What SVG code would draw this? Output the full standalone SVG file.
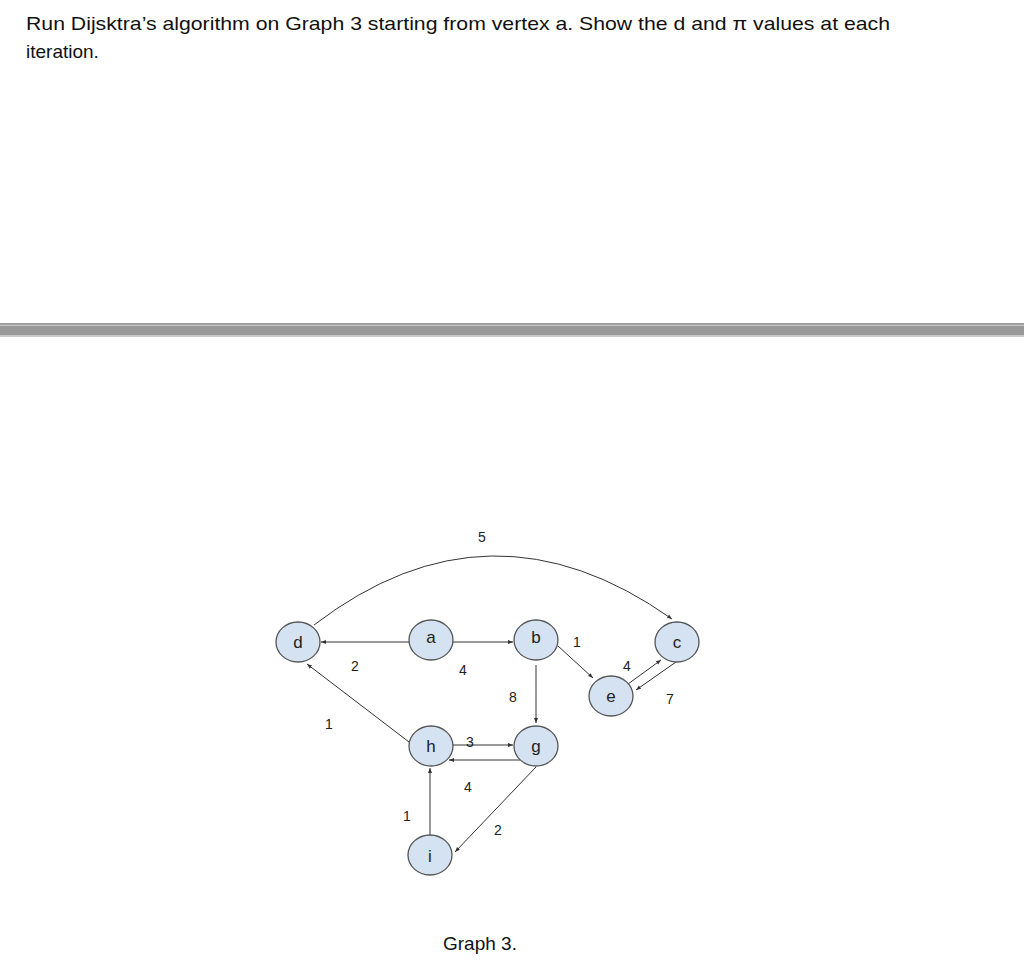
<svg xmlns="http://www.w3.org/2000/svg" width="1024" height="973" viewBox="0 0 1024 973">
<style>
.t{font-family:"Liberation Sans",Arial,sans-serif;font-size:19px;fill:#111}
.n ellipse{fill:#d4e2f1;stroke:#555;stroke-width:1.3}
.n text{font-family:"Liberation Sans",Arial,sans-serif;font-size:17px;fill:#222;text-anchor:middle}
.e{stroke:#333;stroke-width:1;fill:none;marker-end:url(#ar)}
.l{font-family:"Liberation Sans",Arial,sans-serif;font-size:14px;fill:#222;text-anchor:middle}
</style>
<defs><marker id="ar" viewBox="0 0 10 10" refX="10" refY="5" markerWidth="5" markerHeight="5" orient="auto"><path d="M0,1L10,5L0,9z" fill="#333"/></marker></defs>
<rect width="1024" height="973" fill="#fff"/>
<text class="t" x="26" y="30" textLength="864" lengthAdjust="spacingAndGlyphs">Run Dijsktra’s algorithm on Graph 3 starting from vertex a.  Show the d and π values at each</text>
<text class="t" x="26" y="58">iteration.</text>
<rect x="0" y="323" width="1024" height="14" fill="#c8c8c8"/>
<rect x="0" y="323" width="1024" height="2" fill="#a0a0a0"/>
<rect x="0" y="326" width="1024" height="9" fill="#999"/>
<g id="edges">
<path class="e" d="M409,642H321"/>
<path class="e" d="M453,642H513"/>
<path class="e" d="M558,646L593,678"/>
<path class="e" d="M628,684L661,660"/>
<path class="e" d="M676,662L636,690"/>
<path class="e" d="M536,665V723"/>
<path class="e" d="M453,745H513"/>
<path class="e" d="M520,760H449"/>
<path class="e" d="M409,742L307,664"/>
<path class="e" d="M430,835V768"/>
<path class="e" d="M536,767L455,852"/>
<path class="e" d="M314,625Q490,490 672,619"/>
</g>
<g class="lbls">
<text class="l" x="482" y="542">5</text>
<text class="l" x="355" y="671">2</text>
<text class="l" x="463" y="675">4</text>
<text class="l" x="577" y="647">1</text>
<text class="l" x="627" y="671">4</text>
<text class="l" x="670" y="704">7</text>
<text class="l" x="513" y="702">8</text>
<text class="l" x="329" y="729">1</text>
<text class="l" x="470" y="747">3</text>
<text class="l" x="468" y="792">4</text>
<text class="l" x="407" y="821">1</text>
<text class="l" x="498" y="835">2</text>
</g>
<g id="d" class="n"><ellipse cx="298" cy="642" rx="22" ry="20"/><text x="298" y="648">d</text></g>
<g id="a" class="n"><ellipse cx="431" cy="640" rx="22" ry="20"/><text x="431" y="643">a</text></g>
<g id="b" class="n"><ellipse cx="536" cy="640" rx="22" ry="20"/><text x="536" y="643">b</text></g>
<g id="c" class="n"><ellipse cx="677" cy="642" rx="22" ry="20"/><text x="677" y="648">c</text></g>
<g id="e" class="n"><ellipse cx="611" cy="696" rx="22" ry="20"/><text x="611" y="702">e</text></g>
<g id="h" class="n"><ellipse cx="431" cy="746" rx="22" ry="20"/><text x="431" y="752">h</text></g>
<g id="g" class="n"><ellipse cx="536" cy="746" rx="22" ry="20"/><text x="536" y="752">g</text></g>
<g id="i" class="n"><ellipse cx="430" cy="855" rx="22" ry="20"/><text x="430" y="862">i</text></g>
<text class="t" x="443" y="950">Graph 3.</text>
</svg>
